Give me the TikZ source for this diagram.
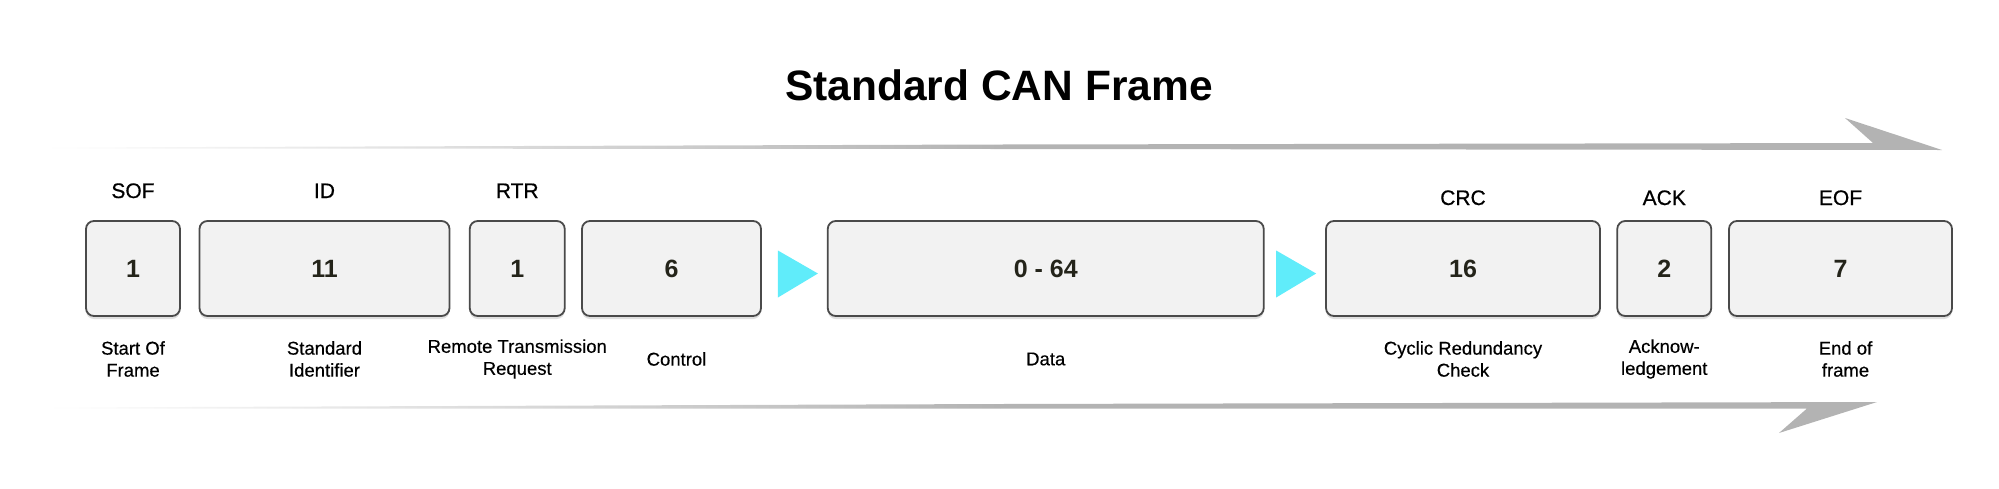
\documentclass[tikz,border=0pt]{standalone}
\usepackage{fontspec}
\setmainfont{Liberation Sans}
\usetikzlibrary{shadows}
\definecolor{boxfill}{HTML}{F2F2F2}
\definecolor{boxline}{HTML}{4A4A4A}
\definecolor{numcol}{HTML}{24241A}
\definecolor{flowcyan}{HTML}{60ECFA}
\definecolor{busgray}{HTML}{B3B3B3}
\begin{document}
\begin{tikzpicture}[x=1pt,y=-1pt,
    field/.style={draw=boxline,line width=1.8pt,fill=boxfill,rounded corners=8pt,
      minimum height=95pt,inner sep=0pt,text=numcol,
      font=\fontsize{25}{30}\selectfont\bfseries,
      drop shadow={shadow xshift=0pt,shadow yshift=-3pt,opacity=0.25}},
    tag/.style={anchor=base,inner sep=0pt,font=\fontsize{21}{25}\selectfont\addfontfeature{FakeBold=0.6}},
    desc/.style={align=center,inner sep=0pt,font=\fontsize{18.5}{22}\selectfont\addfontfeature{FakeBold=0.4}},
    flow/.style={fill=flowcyan}]
    \useasboundingbox (0,0) rectangle (1999,488);
    % title
    \node[anchor=base,inner sep=0pt,font=\fontsize{42.5}{50}\selectfont\bfseries] (title) at (999,100) {Standard CAN Frame};
    % upper and lower bus arrows
    \shade[left color=white,right color=busgray] (45,147.5) -- (1000,144.5) -- (1000,149) -- (45,148.5) -- cycle;
    \fill[busgray] (1000,144.5) -- (1873,143) -- (1845,118) -- (1942,150) -- (1000,149) -- cycle;
    \shade[left color=white,right color=busgray] (47,407.5) -- (1000,404) -- (1000,408.5) -- (47,408.5) -- cycle;
    \fill[busgray] (1000,404) -- (1877,402) -- (1779,433) -- (1807,408.5) -- (1000,408.5) -- cycle;
    % rows for the texts
    \coordinate (tagL) at (0,198);
    \coordinate (tagR) at (0,205);
    \coordinate (descline) at (0,359);
    % fields of the frame
    \node[field,minimum width=94pt] (sof) at (133,268.5) {1};
    \node[field,minimum width=250pt] (id) at (324.5,268.5) {11};
    \node[field,minimum width=95pt] (rtr) at (517.25,268.5) {1};
    \node[field,minimum width=179pt] (ctrl) at (671.5,268.5) {6};
    \node[field,minimum width=436pt] (data) at (1045.75,268.5) {0 - 64};
    \node[field,minimum width=274pt] (crc) at (1463,268.5) {16};
    \node[field,minimum width=94pt] (ack) at (1664.25,268.5) {2};
    \node[field,minimum width=223pt] (eof) at (1840.5,268.5) {7};
    % cyan markers
    \fill[flow] ([shift={(16,-18)}]ctrl.east) -- ++(40,23) -- ++(-40,24) -- cycle;
    \fill[flow] ([shift={(11.5,-18)}]data.east) -- ++(40,23) -- ++(-40,24) -- cycle;
    % names above
    \node[tag] at (sof |- tagL) {SOF};
    \node[tag] at (id |- tagL) {ID};
    \node[tag] at (rtr |- tagL) {RTR};
    \node[tag] at (crc |- tagR) {CRC};
    \node[tag] at (ack |- tagR) {ACK};
    \node[tag] at (eof |- tagR) {EOF};
    % descriptions below
    \node[desc] at (sof |- descline) {Start Of\\Frame};
    \node[desc] at (id |- descline) {Standard\\Identifier};
    \node[desc] at (rtr |- descline) {Remote Transmission\\Request};
    \node[desc] at ([xshift=5pt]ctrl |- descline) {Control};
    \node[desc] at (data |- descline) {Data};
    \node[desc] at (crc |- descline) {Cyclic Redundancy\\Check};
    \node[desc] at (ack |- descline) {Acknow-\\ledgement};
    \node[desc] at ([xshift=5pt]eof |- descline) {End of\\frame};
\end{tikzpicture}
\end{document}
